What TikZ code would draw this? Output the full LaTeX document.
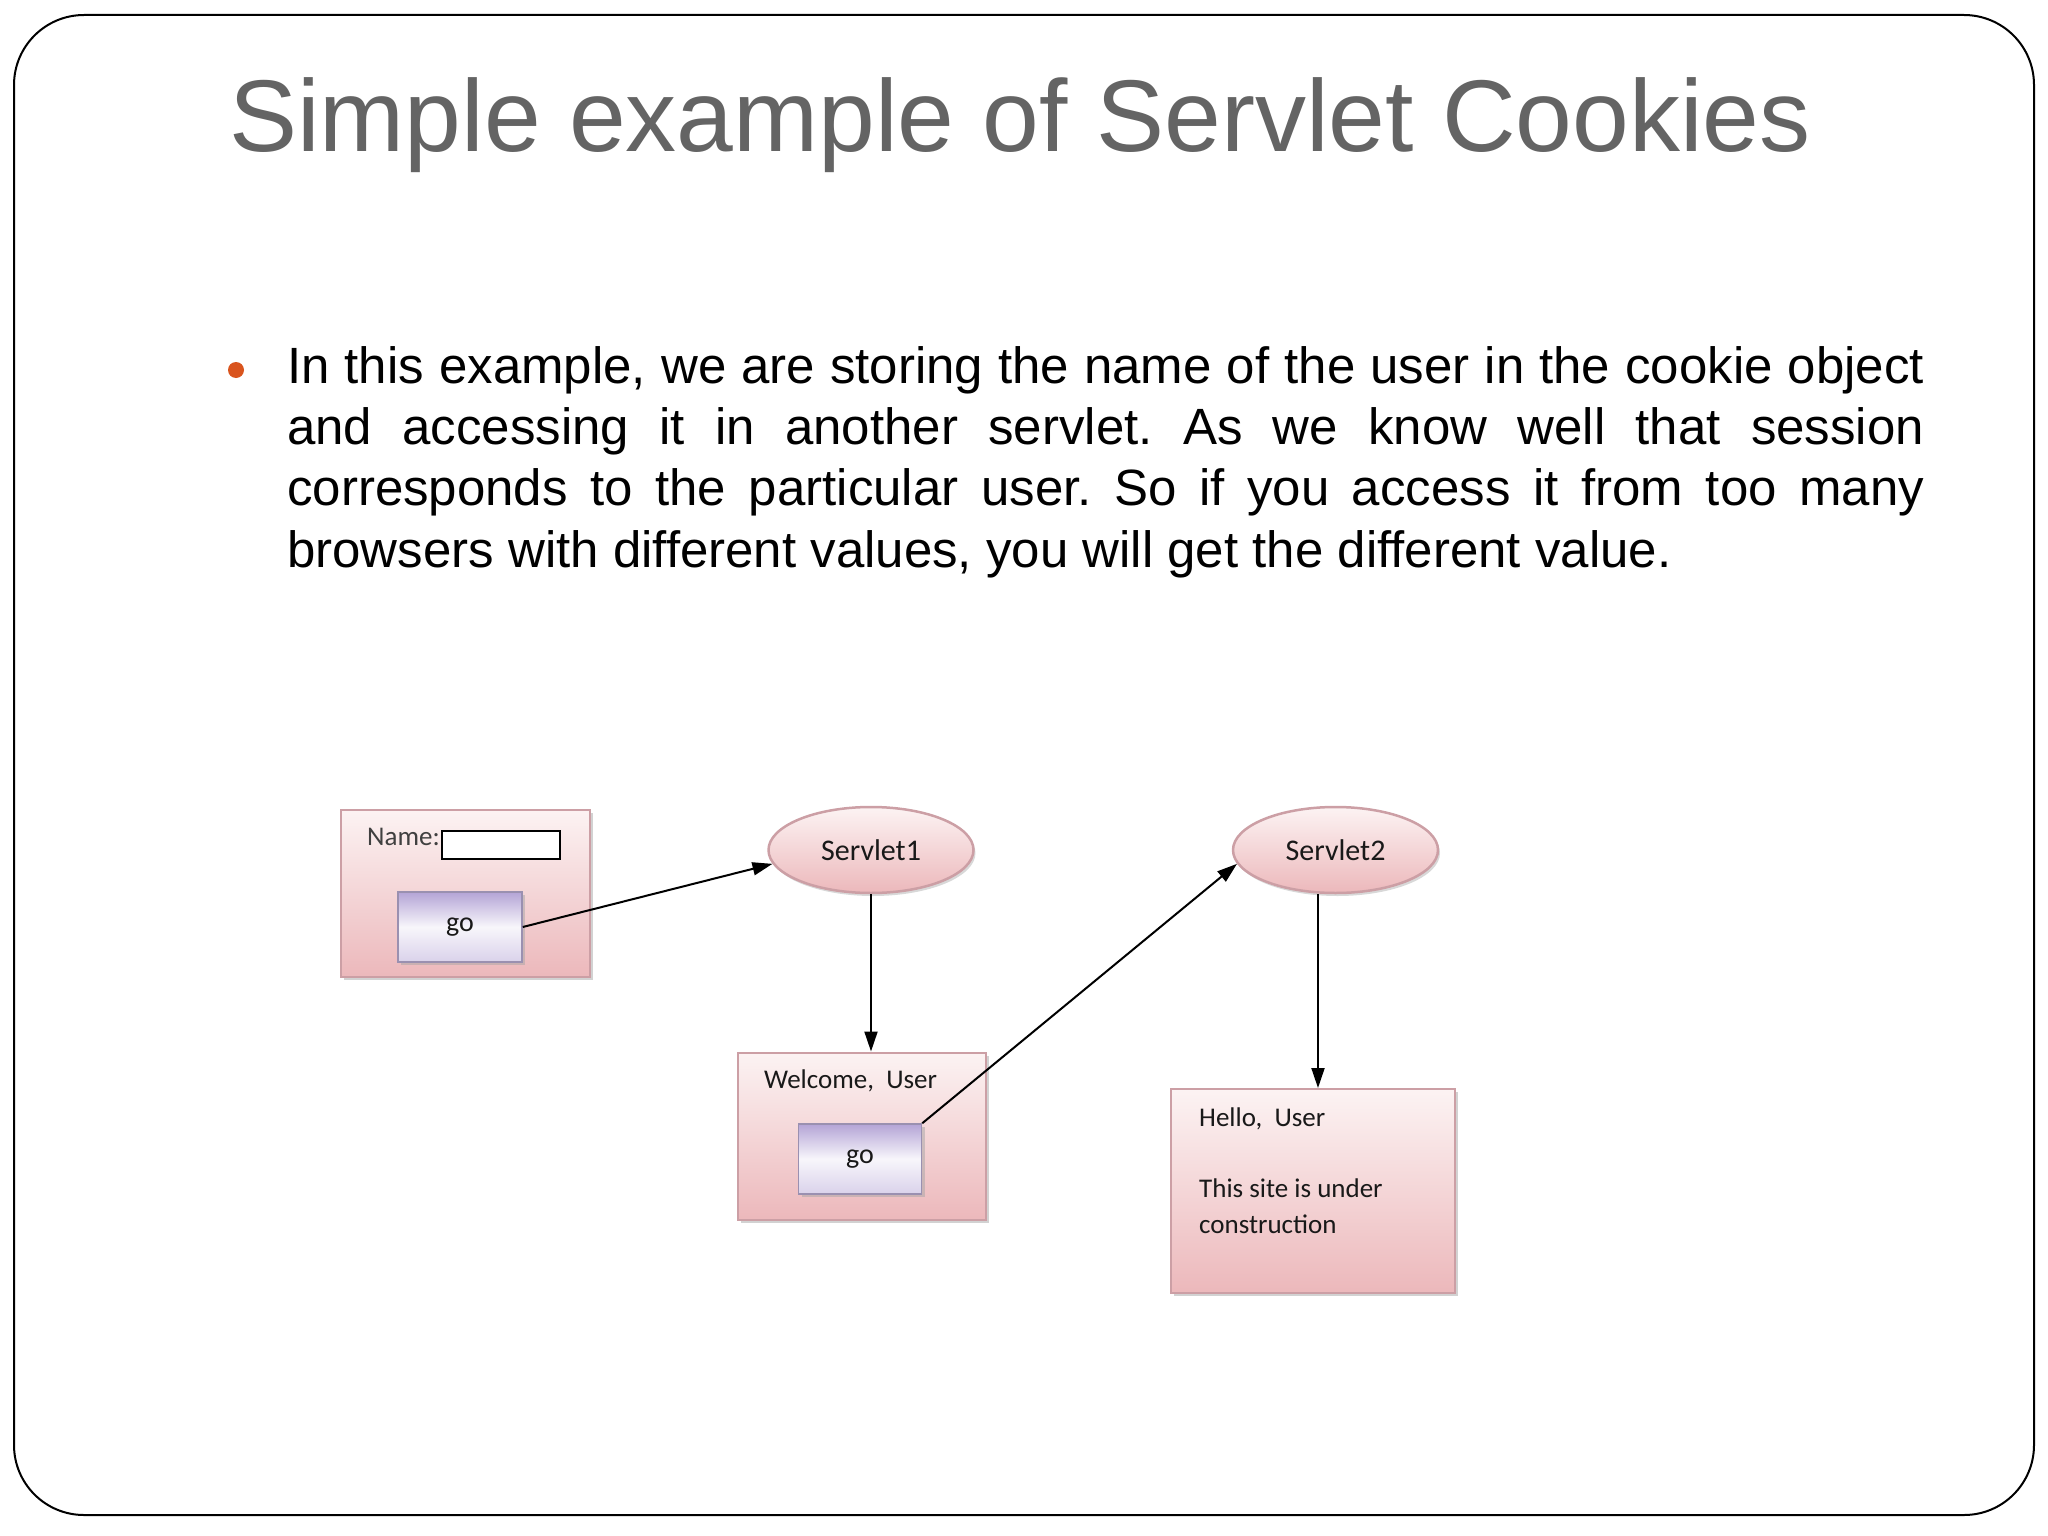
\documentclass[tikz,border=0pt]{standalone}
\usepackage{fontspec}
\setmainfont{Liberation Sans}
\newfontfamily\diafont{Carlito}
\usepackage{xcolor}
\definecolor{titlegray}{HTML}{646464}
\definecolor{dotred}{HTML}{D9541E}
\definecolor{pinkfill}{HTML}{ECB8BB}
\definecolor{pinkline}{HTML}{CC9FA5}
\definecolor{pinktop}{HTML}{FCF3F3}
\definecolor{lavfill}{HTML}{B4A4D6}
\definecolor{lavline}{HTML}{9A90B0}
\usetikzlibrary{positioning,calc,arrows.meta,shadows,shapes.geometric}

\begin{document}
\begin{tikzpicture}[x=1pt,y=-1pt,
  box/.style={draw=pinkline,line width=2pt,top color=pinktop,bottom color=pinkfill,
    drop shadow={shadow xshift=3pt,shadow yshift=-3pt,fill=black!35}},
  btn/.style={draw=lavline,line width=1.5pt,top color=lavfill,bottom color=white!50!lavfill,middle color=white!90!lavfill,
    font=\diafont\fontsize{28}{32}\selectfont,text=black!90,
    drop shadow={shadow xshift=3pt,shadow yshift=-3pt,fill=black!35}},
  srv/.style={ellipse,draw=pinkline,line width=2.5pt,top color=pinktop,bottom color=pinkfill,
    minimum width=205pt,minimum height=86pt,font=\diafont\fontsize{30}{34}\selectfont,text=black!90,
    drop shadow={shadow xshift=2pt,shadow yshift=-3pt,fill=black!30}},
  txt/.style={font=\diafont\fontsize{27}{36}\selectfont,text=black!90,inner sep=0pt},
  arr/.style={-{Triangle[length=20pt,width=13pt]},line width=2pt}]
  \useasboundingbox (0,0) rectangle (2048,1536);
  \draw[line width=2pt,rounded corners=70pt] (14,15) rectangle (2034,1515);

  \node[anchor=base,text=titlegray,font=\fontsize{102}{120}\selectfont] (title) at (1020,152) {Simple example of Servlet Cookies};
  \node[circle,fill=dotred,inner sep=0pt,minimum size=16pt] (dot) at (236,370) {};
  \node[anchor=north west,inner sep=0pt,text width=1637pt,align=justify,font=\fontsize{51}{61.4}\selectfont] (body) at (287,346)
    {\frenchspacing In this example, we are storing the name of the user in the cookie object\linebreak
     and accessing it in another servlet. As we know well that session\linebreak
     corresponds to the particular user. So if you access it from too many\linebreak
     browsers with different values, you will get the different value.};

  \node[box,minimum width=249pt,minimum height=167pt] (fa) at (465,893) {};
  \node[txt,anchor=west,text=black!75] (nm) at (367,837) {Name:};
  \node[draw,fill=white,line width=2pt,minimum width=118pt,minimum height=28pt,inner sep=0pt,anchor=west] (nf) at (441,845) {};
  \node[btn,minimum width=124pt,minimum height=70pt] (ga) at (460,927) {go};

  \node[srv] (s1) at (871,850) {Servlet1};
  \node[srv,right=257pt of s1] (s2) {Servlet2};

  \node[box,minimum width=248pt,minimum height=167pt] (w) at (862,1136) {};
  \node[txt,anchor=west] (wt) at (764,1081) {Welcome,\ \ User};
  \node[btn,minimum width=123pt,minimum height=70pt] (gb) at (860,1159) {go};

  \node[box,minimum width=284pt,minimum height=204pt] (h) at (1313,1191) {};
  \node[txt,anchor=west] (ht) at (1199,1119) {Hello,\ \ User};
  \node[txt,anchor=north west,align=left] (hc) at (1199,1179) {This site is under\\construction};
  \coordinate (hin) at ([xshift=5pt]h.north);

  \draw[arr] (ga.east) -- (s1.188);
  \draw[arr] (s1.south) -- (s1.south |- w.north);
  \draw[arr] (gb.north east) -- (s2.188);
  \draw[arr] (hin |- s2.south) -- (hin);
\end{tikzpicture}
\end{document}
